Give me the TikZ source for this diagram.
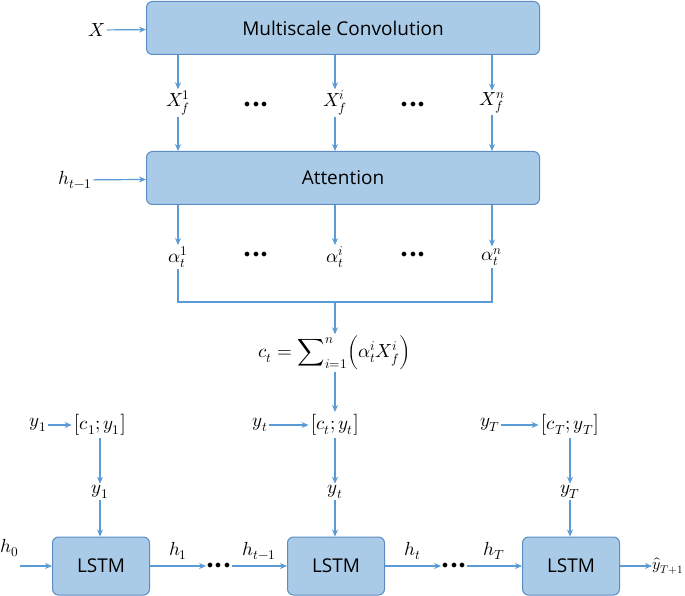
\documentclass[tikz,border=0pt]{standalone}
\usepackage{unicode-math}
\setsansfont{Open Sans}
\setmathfont{Latin Modern Math}
\usetikzlibrary{positioning,arrows.meta}
\definecolor{boxfill}{HTML}{A9CBE8}
\definecolor{boxline}{HTML}{5B8DC4}
\definecolor{arr}{HTML}{5B9BD5}
\begin{document}
\begin{tikzpicture}[x=1pt, y=-1pt, >={Stealth[length=7pt,width=6pt]}]
    \tikzset{block/.style = {draw=boxline, fill=boxfill, rounded corners=6pt, line width=1pt,
                             font=\fontsize{19}{22}\selectfont\sffamily},
             lbl/.style = {font=\fontsize{19}{22}\selectfont, inner sep=1.5pt},
             dots/.style = {font=\fontsize{12}{14}\selectfont, inner sep=1pt},
             link/.style = {->, draw=arr, line width=1.2pt}}
    \useasboundingbox (0,0) rectangle (685,596);

    \node[block, minimum width=393pt, minimum height=53pt] (conv) at (343,28) {Multiscale Convolution};
    \node[block, minimum width=393pt, minimum height=53pt] (att) at (343,178) {Attention};
    \node[lbl] (x) at (97,30) {$X$};
    \node[lbl] (hprev) at (75,180) {$h_{t-1}$};
    \draw[link] (x) -- (conv);
    \draw[link] (hprev) -- (att);

    \node[lbl] (xf1) at (178,103) {$X_f^1$};
    \node[lbl] (xfi) at (335,103) {$X_f^i$};
    \node[lbl] (xfn) at (492,103) {$X_f^n$};
    \node[dots] (d1) at (256,105) {$\bullet\bullet\bullet$};
    \node[dots] (d2) at (413,105) {$\bullet\bullet\bullet$};
    \node[lbl] (a1) at (178,257) {$\alpha_t^1$};
    \node[lbl] (ai) at (335,257) {$\alpha_t^i$};
    \node[lbl] (an) at (492,257) {$\alpha_t^n$};
    \node[dots] (d3) at (256,255) {$\bullet\bullet\bullet$};
    \node[dots] (d4) at (413,255) {$\bullet\bullet\bullet$};

    \foreach \s in {1,i,n} {
        \draw[link] (conv.south -| xf\s) -- (xf\s);
        \draw[link] (xf\s) -- (att.north -| xf\s);
        \draw[link] (att.south -| a\s) -- (a\s);
    }

    \coordinate (j1) at (178,302);
    \coordinate (jn) at (492,302);
    \coordinate (jm) at (335,302);
    \node[lbl] (ct) at (335,353) {$c_t=\displaystyle\sum\nolimits_{i=1}^{n}\Bigl(\alpha_t^iX_f^i\Bigr)$};
    \draw[draw=arr, line width=1.2pt] (a1) -- (j1) -- (jn) -- (an);
    \draw[link] (jm) -- (ct);

    \node[lbl] (cat1) at (100,425) {$\bigl[c_1;y_1\bigr]$};
    \node[lbl] (catt) at (335,425) {$\bigl[c_t;y_t\bigr]$};
    \node[lbl] (catT) at (570,425) {$\bigl[c_T;y_T\bigr]$};
    \node[lbl] (in1) at (38,425) {$y_1$};
    \node[lbl] (int) at (260,425) {$y_t$};
    \node[lbl] (inT) at (490,425) {$y_T$};
    \node[lbl] (y1) at (100,492) {$y_1$};
    \node[lbl] (yt) at (335,492) {$y_t$};
    \node[lbl] (yT) at (570,492) {$y_T$};
    \draw[link] (ct) -- (catt);

    \node[block, minimum width=97pt, minimum height=58pt] (l1) at (101,566) {LSTM};
    \node[block, minimum width=97pt, minimum height=58pt] (lt) at (336,566) {LSTM};
    \node[block, minimum width=97pt, minimum height=58pt] (lT) at (571,566) {LSTM};

    \foreach \s/\l in {1/1,t/t,T/T} {
        \draw[link] (in\s) -- (cat\s);
        \draw[link] (cat\s) -- (y\s);
        \draw[link] (y\s) -- (l\l.north -| y\s);
    }

    \node[lbl] (h0) at (10,548) {$h_0$};
    \coordinate (s0) at (20,566);
    \node[dots] (d5) at (219,566) {$\bullet\bullet\bullet$};
    \node[dots] (d6) at (454,566) {$\bullet\bullet\bullet$};
    \node[lbl, anchor=west, font=\fontsize{16}{18}\selectfont, inner sep=0.5pt] (yhat) at (652,566) {$\hat{y}_{T+1}$};
    \draw[link] (s0) -- (l1);
    \draw[link] (l1) -- node[lbl, above=4pt] {$h_1$} (d5);
    \draw[link] (d5) -- node[lbl, above=4pt] {$h_{t-1}$} (lt);
    \draw[link] (lt) -- node[lbl, above=4pt] {$h_t$} (d6);
    \draw[link] (d6) -- node[lbl, above=4pt] {$h_T$} (lT);
    \draw[link] (lT) -- (yhat);
\end{tikzpicture}
\end{document}
